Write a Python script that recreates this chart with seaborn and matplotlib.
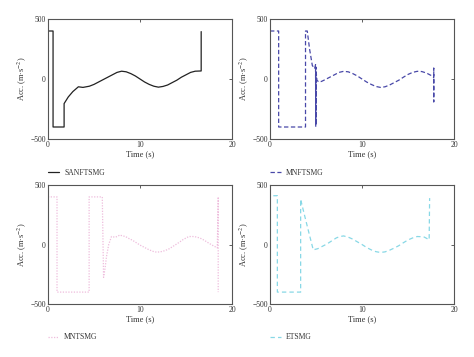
import numpy as np
import pandas as pd
import matplotlib
matplotlib.use("Agg")
import matplotlib.pyplot as plt
import seaborn as sns

# values (time in s, acceleration in m/s^2)
t_sanftsmg = [0, 0.55, 0.55, 1.75, 1.75, 2.2, 2.7, 3.3, 3.8, 4.5, 5, 5.5, 6, 6.5, 7, 7.5,
              8, 8.5, 9, 9.5, 10, 10.5, 11, 11.5, 12, 12.5, 13, 13.5, 14, 14.5, 15, 15.5,
              16, 16.65, 16.65]
a_sanftsmg = [400, 400, -400, -400, -205, -150, -105, -65, -70, -60, -45, -25, -5, 15, 35, 55,
              65, 60, 45, 25, 0, -25, -45, -60, -68, -62, -50, -30, -10, 15, 35, 55,
              65, 67, 395]

t_mnftsmg = [0, 0.94, 0.94, 3.86, 3.86, 4.05, 4.3, 4.6, 4.85, 4.95, 4.97, 4.99, 5.01, 5.03,
             5.1, 5.3, 5.6, 6, 6.5, 7, 7.5, 8, 8.5, 9, 9.5, 10, 10.5, 11, 11.5, 12, 12.5,
             13, 13.5, 14, 14.5, 15, 15.5, 16, 16.5, 17, 17.5, 17.8, 17.8, 17.8, 17.8]
a_mnftsmg = [400, 400, -400, -400, 400, 400, 250, 113, 86, 120, -400, 100, -380, 50,
             -10, -25, -20, -5, 15, 35, 55, 64, 60, 45, 25, 0, -25, -45, -62, -70, -65,
             -50, -30, -10, 15, 38, 55, 64, 62, 50, 30, 12, 90, -190, 20]

t_mntsmg = [0, 0.98, 0.98, 4.47, 4.47, 5.9, 6.04, 6.2, 6.36, 6.6, 6.9, 7.3, 7.6, 7.8, 8.1,
            8.4, 8.8, 9.2, 9.6, 10, 10.5, 11, 11.5, 11.8, 12.2, 12.7, 13.2, 13.7, 14.2,
            14.7, 15.3, 15.9, 16.5, 17, 17.5, 18, 18.4, 18.5, 18.5]
a_mntsmg = [400, 400, -400, -400, 400, 400, -276, -200, -100, 0, 67, 61, 70, 80, 72,
            68, 50, 35, 15, -5, -25, -45, -60, -64, -62, -52, -35, -10, 15,
            42, 67, 67, 55, 35, 10, -12, -28, 400, -400]

t_etsmg = [0.36, 0.8, 0.8, 3.33, 3.33, 3.7, 4.24, 4.7, 5.2, 5.7, 6.2, 6.7, 7.2, 7.6, 8,
           8.5, 9, 9.5, 10, 10.5, 11, 11.5, 12, 12.5, 13, 13.5, 14, 14.5, 15, 15.5, 16,
           16.7, 17.3, 17.35]
a_etsmg = [410, 410, -400, -400, 380, 262, 95, -45, -35, -15, 5, 30, 55, 67, 72,
           62, 45, 22, 0, -25, -45, -60, -67, -62, -48, -30, -10, 15, 38, 55, 67,
           65, 40, 390]

names = ["SANFTSMG", "MNFTSMG", "MNTSMG", "ETSMG"]
series = [(t_sanftsmg, a_sanftsmg), (t_mnftsmg, a_mnftsmg),
          (t_mntsmg, a_mntsmg), (t_etsmg, a_etsmg)]
colors = ["#222222", "#4848a8", "#eebcdc", "#88d8e6"]
dashes = [(None, None), (3.5, 2), (1, 1.2), (3.5, 2.5)]

sns.set_theme(style="white")
plt.rcParams["font.family"] = ["Liberation Serif", "DejaVu Serif"]
plt.rcParams["mathtext.fontset"] = "stix"

fig = plt.figure(figsize=(4.74, 3.57), dpi=100)
positions = [
    [48 / 474, 1 - 139 / 357, 184 / 474, 120 / 357],
    [270 / 474, 1 - 139 / 357, 184 / 474, 120 / 357],
    [48 / 474, 1 - 304 / 357, 184 / 474, 119 / 357],
    [270 / 474, 1 - 304 / 357, 184 / 474, 119 / 357],
]

for i, (name, (t, a)) in enumerate(zip(names, series)):
    ax = fig.add_axes(positions[i])
    df = pd.DataFrame({"Time": t, "Acc": a})
    sns.lineplot(data=df, x="Time", y="Acc", sort=False, estimator=None,
                 color=colors[i], linewidth=0.9, label=name, ax=ax)
    line = ax.get_lines()[0]
    if dashes[i][0] is not None:
        line.set_dashes(dashes[i])
    ax.set_xlim(0, 20)
    ax.set_ylim(-500, 500)
    ax.set_xticks([0, 10, 20])
    ax.set_yticks([-500, 0, 500])
    ax.tick_params(direction="in", length=2, width=0.6, labelsize=5.5, pad=1.5,
                   top=True, right=True, colors="#444444", labelcolor="#333333")
    for s in ax.spines.values():
        s.set_color("#555555")
        s.set_linewidth(0.8)
    ax.set_xlabel("Time (s)", fontsize=6, color="#333333", labelpad=1)
    ax.set_ylabel("Acc. (m$\\cdot$s$^{-2}$)", fontsize=6, color="#333333", labelpad=1)
    leg = ax.legend(loc="center left", bbox_to_anchor=(0.0, -0.28), frameon=False,
                    fontsize=5.5, handlelength=1.4, handletextpad=0.7, borderaxespad=0,
                    borderpad=0, labelcolor="#333333")

fig.savefig("out.png", dpi=100)
